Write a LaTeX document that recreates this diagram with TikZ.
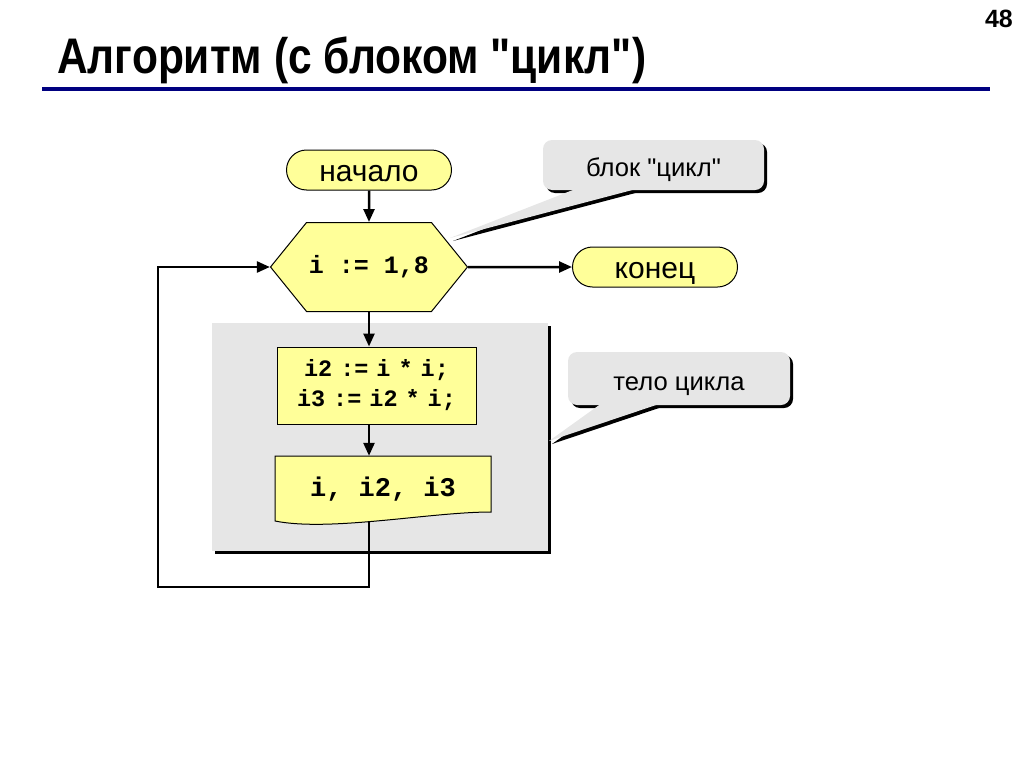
\documentclass[tikz,border=0pt]{standalone}
\usepackage{fontspec}
\setmainfont{Liberation Sans}[Ligatures=TeXOff]
\setmonofont{Liberation Mono}
\newfontfamily\narrowfont{Liberation Sans}[FakeStretch=0.85,Ligatures=TeXOff]
\usepackage{xcolor}
\usepackage{tikz}
\usetikzlibrary{positioning}
\usetikzlibrary{arrows.meta}
\usetikzlibrary{shapes}
\usetikzlibrary{shadows}

\definecolor{blockyellow}{RGB}{255,255,153}
\definecolor{notegray}{RGB}{230,230,230}
\definecolor{rulenavy}{RGB}{0,0,128}
\newcommand\codegap{\hspace{8pt}}

\begin{document}
\begin{tikzpicture}[x=1pt, y=-1pt,
                    terminal/.style = { rectangle, rounded corners = 20pt, draw, black, fill = blockyellow, minimum width = 165pt, minimum height = 40pt, font = \fontsize{30}{32}\selectfont, text height = 22pt, text depth = 0pt, inner sep=0pt, line width = 1pt },
                    loophead/.style = { signal, signal to = east and west, signal pointer angle = 102, draw, black, fill = blockyellow, minimum width = 197pt, minimum height = 89pt, font = \ttfamily\bfseries\fontsize{25}{27}\selectfont, inner sep=0pt, line width = 1pt },
                    process/.style = { rectangle, draw, black, fill = blockyellow, minimum width = 199pt, minimum height = 77pt, align = center, font = \ttfamily\bfseries\fontsize{23.5}{30}\selectfont, inner sep=0pt, line width = 1pt },
                    docbox/.style = { rectangle, minimum width = 216pt, minimum height = 66pt, font = \ttfamily\bfseries\fontsize{27}{30}\selectfont, inner sep=0pt },
                    noteshadow/.style = { drop shadow = {shadow xshift = 3pt, shadow yshift = -3pt, fill = black, opacity = 1} },
                    note/.style = { rectangle, rounded corners = 9pt, fill = notegray, font = \fontsize{25.6}{28}\selectfont, text height = 23pt, text depth = 0pt, inner sep=0pt, noteshadow },
                    flow/.style = { line width = 2.5pt, -{Triangle[length=13pt, width=11pt]} },
                ]
                    \useasboundingbox (0,0) rectangle (1024,768);

                    % header
                    \node[anchor = base west, inner sep = 0pt, font = \narrowfont\bfseries\fontsize{50}{56}\selectfont] (title) at (57,73) {Алгоритм (с блоком "цикл")};
                    \node[anchor = base east, inner sep = 0pt, font = \bfseries\fontsize{25}{28}\selectfont] (pagenum) at (1013,28) {48};
                    \draw[rulenavy, line width = 4pt] (42,89) -- (990,89);

                    % loop body
                    \fill[notegray, noteshadow] (212,323) rectangle (548,551);
                    \filldraw[fill = blockyellow, draw = black, line width = 1pt] (275,456) -- (491,456) -- (491,512) .. controls (430,512) and (330,532) .. (275,521) -- cycle;

                    \node[terminal] (start) at (369,170) {начало};
                    \node[loophead] (hex) at (369,267) {i := 1,8};
                    \node[terminal] (finish) at (655,267) {конец};
                    \node[process] (proc) at (376.5,385.5) {i2\codegap:=\codegap i\codegap*\codegap i;\\i3\codegap:=\codegap i2\codegap*\codegap i;};
                    \node[docbox] (out) at (383,489) {i, i2, i3};

                    \draw[flow] (start) -- (hex);
                    \draw[flow] (hex) -- (finish);
                    \draw[flow] (hex.south) -- (hex.south |- proc.north);
                    \draw[flow] (proc.south -| hex.south) -- (hex.south |- out.north);
                    \coordinate (loopcorner) at (158,587);
                    \draw[flow] (out.south -| hex.south) |- (loopcorner) |- (hex.west);

                    % callouts
                    \coordinate (hextip) at (450,238);
                    \coordinate (bodytip) at (549,441);
                    \node[note, minimum width = 221pt, minimum height = 50pt] (noteloop) at (653.5,165) {блок "цикл"};
                    \fill[notegray, noteshadow] (578,188) -- (640,188) -- (hextip) -- cycle;
                    \node[note, minimum width = 222pt, minimum height = 53pt] (notebody) at (679,378.5) {тело цикла};
                    \fill[notegray, noteshadow] (602,403) -- (662,403) -- (bodytip) -- cycle;
                \end{tikzpicture}
\end{document}
